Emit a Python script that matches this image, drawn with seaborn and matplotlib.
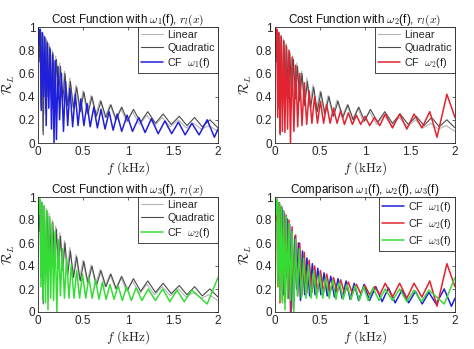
import numpy as np
import pandas as pd
import matplotlib
matplotlib.use("Agg")
import matplotlib.pyplot as plt
import seaborn as sns

# ---------------- data ----------------
# Linear reference curve (light gray): local maxima / minima
LIN_PEAK_F = [0, 0.02, 0.042, 0.065, 0.092, 0.122, 0.158, 0.197, 0.243, 0.294, 0.353, 0.422,
              0.5, 0.59, 0.69, 0.8, 0.92, 1.05, 1.21, 1.38, 1.56, 1.73, 1.9]
LIN_PEAK_R = [1.0, 0.99, 0.96, 0.93, 0.9, 0.86, 0.8, 0.75, 0.69, 0.62, 0.56, 0.5,
              0.45, 0.41, 0.37, 0.33, 0.3, 0.27, 0.24, 0.22, 0.2, 0.17, 0.15]
LIN_TROUGH_F = [0.01, 0.03, 0.052, 0.078, 0.107, 0.14, 0.177, 0.22, 0.268, 0.323, 0.387, 0.46,
                0.545, 0.64, 0.745, 0.86, 0.985, 1.13, 1.295, 1.47, 1.645, 1.815, 2.0]
LIN_TROUGH_R = [0.75, 0.35, 0.1, 0.25, 0.4, 0.42, 0.42, 0.4, 0.38, 0.34, 0.31, 0.28,
                0.26, 0.24, 0.22, 0.2, 0.18, 0.16, 0.15, 0.14, 0.13, 0.12, 0.1]

# Quadratic reference curve (dark gray)
QUAD_PEAK_F = [0, 0.022, 0.045, 0.07, 0.1, 0.13, 0.165, 0.205, 0.25, 0.3, 0.36, 0.43,
               0.51, 0.6, 0.7, 0.81, 0.93, 1.06, 1.22, 1.39, 1.57, 1.74, 1.91]
QUAD_PEAK_R = [1.0, 0.98, 0.95, 0.92, 0.88, 0.83, 0.78, 0.72, 0.66, 0.6, 0.53, 0.48,
               0.44, 0.4, 0.36, 0.33, 0.31, 0.29, 0.27, 0.25, 0.23, 0.22, 0.2]
QUAD_TROUGH_F = [0.012, 0.035, 0.058, 0.085, 0.115, 0.148, 0.185, 0.228, 0.275, 0.33, 0.395, 0.47,
                 0.555, 0.65, 0.755, 0.87, 0.995, 1.14, 1.305, 1.48, 1.655, 1.825, 2.0]
QUAD_TROUGH_R = [0.7, 0.3, 0.07, 0.3, 0.4, 0.38, 0.4, 0.38, 0.36, 0.32, 0.3, 0.27,
                 0.25, 0.23, 0.22, 0.2, 0.19, 0.18, 0.17, 0.16, 0.15, 0.14, 0.13]

# CF with omega_1(f) (blue)
CF1_PEAK_F = [0, 0.025, 0.05, 0.077, 0.105, 0.135, 0.163, 0.19, 0.222, 0.26, 0.305, 0.355,
              0.415, 0.475, 0.545, 0.62, 0.70, 0.79, 0.88, 0.99, 1.12, 1.26, 1.41, 1.56, 1.71, 1.88]
CF1_PEAK_R = [1.0, 0.98, 0.95, 0.91, 0.86, 0.81, 0.76, 0.71, 0.66, 0.6, 0.53, 0.47,
              0.42, 0.38, 0.34, 0.31, 0.29, 0.27, 0.25, 0.24, 0.22, 0.21, 0.19, 0.18, 0.17, 0.2]
CF1_TROUGH_F = [0.013, 0.037, 0.063, 0.091, 0.12, 0.15, 0.178, 0.205, 0.24, 0.283, 0.33, 0.385,
                0.445, 0.51, 0.58, 0.66, 0.745, 0.835, 0.93, 1.05, 1.19, 1.335, 1.485, 1.635,
                1.79, 1.96, 2.0]
CF1_TROUGH_R = [0.85, 0.28, 0.4, 0.15, 0.3, 0.12, 0.0, 0.03, 0.2, 0.1, 0.15, 0.14,
                0.15, 0.15, 0.14, 0.13, 0.12, 0.11, 0.1, 0.1, 0.09, 0.08, 0.08, 0.07,
                0.07, 0.05, 0.12]

# CF with omega_2(f) (red)
CF2_PEAK_F = [0, 0.02, 0.042, 0.068, 0.096, 0.125, 0.155, 0.19, 0.23, 0.275, 0.325, 0.38,
              0.44, 0.505, 0.575, 0.65, 0.73, 0.815, 0.905, 1.0, 1.105, 1.225, 1.385, 1.545,
              1.72, 1.91]
CF2_PEAK_R = [1.0, 0.98, 0.95, 0.92, 0.88, 0.84, 0.8, 0.74, 0.67, 0.6, 0.52, 0.45,
              0.4, 0.36, 0.33, 0.3, 0.28, 0.26, 0.24, 0.23, 0.22, 0.25, 0.25, 0.25,
              0.27, 0.42]
CF2_TROUGH_F = [0.01, 0.03, 0.055, 0.082, 0.11, 0.14, 0.172, 0.21, 0.252, 0.3, 0.352, 0.41,
                0.472, 0.54, 0.612, 0.69, 0.772, 0.86, 0.952, 1.052, 1.165, 1.305, 1.465,
                1.632, 1.80, 2.0]
CF2_TROUGH_R = [0.8, 0.22, 0.08, 0.1, 0.09, 0.12, 0.0, 0.1, 0.14, 0.15, 0.16, 0.17,
                0.17, 0.17, 0.17, 0.17, 0.16, 0.16, 0.16, 0.15, 0.15, 0.13, 0.12,
                0.13, 0.05, 0.22]

# CF with omega_3(f) (green)
CF3_PEAK_F = [0, 0.022, 0.045, 0.07, 0.097, 0.126, 0.157, 0.19, 0.228, 0.27, 0.318, 0.37,
              0.43, 0.495, 0.565, 0.64, 0.715, 0.8, 0.89, 0.985, 1.09, 1.225, 1.385, 1.545, 1.71]
CF3_PEAK_R = [1.0, 0.98, 0.95, 0.92, 0.88, 0.83, 0.77, 0.7, 0.63, 0.55, 0.47, 0.41,
              0.36, 0.33, 0.3, 0.28, 0.26, 0.24, 0.23, 0.22, 0.21, 0.2, 0.2, 0.19, 0.19]
CF3_TROUGH_F = [0.011, 0.033, 0.057, 0.083, 0.111, 0.141, 0.173, 0.209, 0.249, 0.294, 0.344, 0.4,
                0.462, 0.53, 0.602, 0.678, 0.757, 0.845, 0.937, 1.037, 1.155, 1.305, 1.465,
                1.625, 1.88, 2.0]
CF3_TROUGH_R = [0.85, 0.22, 0.1, 0.08, 0.02, 0.12, 0.1, 0.0, 0.14, 0.12, 0.12, 0.12,
                0.12, 0.12, 0.12, 0.11, 0.11, 0.11, 0.1, 0.1, 0.1, 0.1, 0.09,
                0.09, 0.07, 0.3]

TITLES = [r"Cost Function with $\omega_1$(f), $r_l(x)$",
          r"Cost Function with $\omega_2$(f), $r_l(x)$",
          r"Cost Function with $\omega_3$(f), $r_l(x)$",
          r"Comparison $\omega_1$(f), $\omega_2$(f), $\omega_3$(f)"]
CF_LABELS = [r"CF  $\omega_1$(f)", r"CF  $\omega_2$(f)", r"CF  $\omega_2$(f)"]
CMP_LABELS = [r"CF  $\omega_1$(f)", r"CF  $\omega_2$(f)", r"CF  $\omega_3$(f)"]
X_TICKS = [0, 0.5, 1, 1.5, 2]
X_TICKLABELS = ["0", "0.5", "1", "1.5", "2"]
Y_TICKS = [0, 0.2, 0.4, 0.6, 0.8, 1]
Y_TICKLABELS = ["0", "0.2", "0.4", "0.6", "0.8", "1"]


def curve(pf, pr, tf, tr):
    df = pd.DataFrame({"f": list(pf) + list(tf), "R": list(pr) + list(tr)})
    return df.sort_values("f").reset_index(drop=True)


LIN = curve(LIN_PEAK_F, LIN_PEAK_R, LIN_TROUGH_F, LIN_TROUGH_R)
QUAD = curve(QUAD_PEAK_F, QUAD_PEAK_R, QUAD_TROUGH_F, QUAD_TROUGH_R)
CF1 = curve(CF1_PEAK_F, CF1_PEAK_R, CF1_TROUGH_F, CF1_TROUGH_R)
CF2 = curve(CF2_PEAK_F, CF2_PEAK_R, CF2_TROUGH_F, CF2_TROUGH_R)
CF3 = curve(CF3_PEAK_F, CF3_PEAK_R, CF3_TROUGH_F, CF3_TROUGH_R)

# ---------------- style ----------------
sns.set_style("white")
plt.rcParams["font.family"] = ["Liberation Sans", "DejaVu Sans"]
plt.rcParams["mathtext.fontset"] = "cm"

BLUE = "#2020dc"
RED = "#e22430"
GREEN = "#36dc36"
LGRAY = "#b4b4b4"
DGRAY = "#4a4a4a"
AX_COL = "#262626"

fig = plt.figure(figsize=(4.74, 3.49), dpi=100)
W, H = 180 / 474, 116 / 349
positions = [
    [38 / 474, 1 - 143 / 349, W, H],
    [275 / 474, 1 - 143 / 349, W, H],
    [38 / 474, 1 - 312 / 349, W, 115 / 349],
    [275 / 474, 1 - 312 / 349, W, 115 / 349],
]
axes = [fig.add_axes(p) for p in positions]


def line(ax, df, color, lw, label):
    sns.lineplot(data=df, x="f", y="R", ax=ax, color=color, lw=lw,
                 estimator=None, sort=False, label=label)


cfs = [CF1, CF2, CF3]
cols = [BLUE, RED, GREEN]
for i in range(3):
    ax = axes[i]
    line(ax, LIN, LGRAY, 0.8, "Linear")
    line(ax, QUAD, DGRAY, 0.8, "Quadratic")
    line(ax, cfs[i], cols[i], 1.1, CF_LABELS[i])

for i in range(3):
    line(axes[3], cfs[i], cols[i], 1.1, CMP_LABELS[i])

for i, ax in enumerate(axes):
    ax.set_xlim(0, 2)
    ax.set_ylim(0, 1)
    ax.set_xticks(X_TICKS)
    ax.set_xticklabels(X_TICKLABELS)
    ax.set_yticks(Y_TICKS)
    ax.set_yticklabels(Y_TICKLABELS)
    ax.tick_params(direction="in", length=2.5, width=0.5, colors=AX_COL,
                   labelsize=8.5, top=True, right=True, pad=2)
    for sp in ax.spines.values():
        sp.set_visible(True)
        sp.set_color(AX_COL)
        sp.set_linewidth(0.6)
    ax.set_title(TITLES[i], fontsize=8.4, color="#111111", pad=3)
    ax.set_xlabel(r"$f\ \mathrm{(kHz)}$", fontsize=9.5, labelpad=1)
    ax.set_ylabel(r"$\mathcal{R}_L$", fontsize=10, labelpad=1)
    leg = ax.legend(loc="upper right", borderaxespad=0, fontsize=7.8, frameon=True,
                    fancybox=False, edgecolor=AX_COL, framealpha=1,
                    handlelength=2.0, handletextpad=0.4, labelspacing=0.25,
                    borderpad=0.3)
    leg.get_frame().set_linewidth(0.6)

fig.savefig("out.png", dpi=100)
